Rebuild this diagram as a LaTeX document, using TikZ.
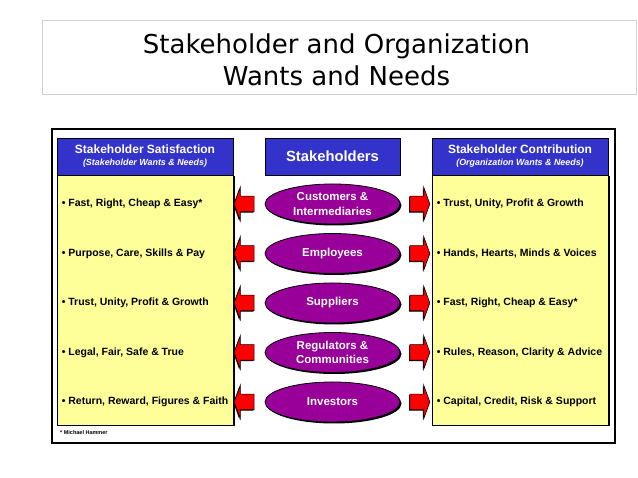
\documentclass[tikz,border=0pt]{standalone}
\usepackage{fontspec}
\setmainfont{Liberation Sans}
\newfontfamily\titlefont{DejaVu Sans}
\usepackage{tikz}
\usetikzlibrary{calc,positioning,shapes.geometric,shapes.arrows,shadows}

\definecolor{hdrblue}{RGB}{51,51,204}
\definecolor{boxyellow}{RGB}{255,255,153}
\definecolor{shpurple}{RGB}{153,0,153}

\begin{document}
\begin{tikzpicture}[
  x=1pt,y=1pt,
  darkshadow/.style={drop shadow={shadow xshift=1.5pt,shadow yshift=-1.5pt,opacity=1,fill=black}},
  header/.style={draw,rectangle,fill=hdrblue,text=white,line width=.8pt,inner sep=0pt,align=center,
    minimum width=176pt,minimum height=37pt,font=\fontsize{12}{12}\selectfont\bfseries},
  panel/.style={draw,rectangle,fill=boxyellow,line width=.8pt,darkshadow,
    minimum width=176pt,minimum height=250pt},
  stake/.style={draw,ellipse,fill=shpurple,text=white,line width=.8pt,darkshadow,inner sep=0pt,align=center,
    minimum width=135pt,minimum height=40pt,font=\fontsize{11.5}{14.5}\selectfont\bfseries},
  blockarrow/.style={single arrow,draw,fill=red,line width=.6pt,inner xsep=0pt,inner ysep=7.5pt,
    minimum height=20pt,minimum width=0pt,single arrow head extend=9pt,single arrow tip angle=140,
    drop shadow={shadow xshift=-.8pt,shadow yshift=-.8pt,opacity=1,fill=black}},
  item/.style={anchor=west,inner sep=0pt,font=\fontsize{10.5}{12}\selectfont\bfseries},
  ]
  \useasboundingbox (0,0) rectangle (638,478);

  % title
  \node (titlebox) [draw=black!18,line width=1pt,rectangle,minimum width=594pt,minimum height=74pt] at(339,420) {};
  \node (title) [align=center,font=\titlefont\fontsize{26}{32}\selectfont] at(336.5,418) {Stakeholder and Organization\\Wants and Needs};

  \node (frame) [draw,line width=1.5pt,rectangle,minimum width=563pt,minimum height=314pt] at(333.5,192) {};

  \node (lbody) [panel] at(145,178) {};
  \node (rbody) [panel] at(520,178) {};
  \node (lhead) [header] at(145,321.5) {Stakeholder Satisfaction\\{\fontsize{8.9}{10}\selectfont\itshape (Stakeholder Wants \& Needs)}};
  \node (mhead) [header,minimum width=135pt,font=\fontsize{14.8}{15}\selectfont\bfseries] at(332.5,321.5) {Stakeholders};
  \node (rhead) [header] at(520,321.5) {Stakeholder Contribution\\{\fontsize{8.9}{10}\selectfont\itshape (Organization Wants \& Needs)}};

  \foreach \i/\who/\want/\give in {
    1/{Customers \&\\Intermediaries}/{Fast, Right, Cheap \& Easy*}/{Trust, Unity, Profit \& Growth},
    2/{Employees}/{Purpose, Care, Skills \& Pay}/{Hands, Hearts, Minds \& Voices},
    3/{Suppliers}/{Trust, Unity, Profit \& Growth}/{Fast, Right, Cheap \& Easy*},
    4/{Regulators \&\\Communities}/{Legal, Fair, Safe \& True}/{Rules, Reason, Clarity \& Advice},
    5/{Investors}/{Return, Reward, Figures \& Faith}/{Capital, Credit, Risk \& Support}}
  {
    \node (sh_\i) [stake] at(332.5,{274-49.5*(\i-1)}) {\who};
    \node (arrl_\i) [blockarrow,shape border rotate=180] at($(sh_\i.west)+(-19,0)$) {};
    \node (arrr_\i) [blockarrow] at($(sh_\i.east)+(18,0)$) {};
    \node (want_\i) [item] at([xshift=5pt]lbody.west |- sh_\i) {• \want};
    \node (give_\i) [item] at([xshift=5pt]rbody.west |- sh_\i) {• \give};
  }

  \node (note) [anchor=west,inner sep=0pt,font=\fontsize{5.5}{6}\selectfont\bfseries] at(60,45) {* Michael Hammer};

\end{tikzpicture}
\end{document}
